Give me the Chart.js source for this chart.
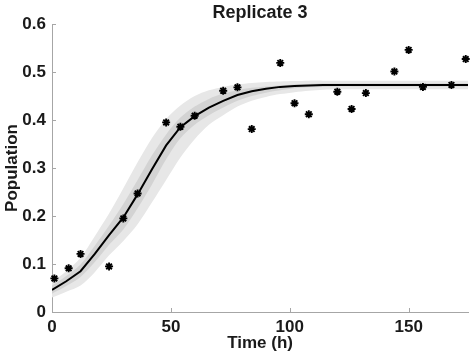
<!DOCTYPE html>
<html>
<head>
<meta charset="utf-8">
<script src="https://cdn.jsdelivr.net/npm/chart.js@4/dist/chart.umd.min.js"></script>
<style>
html,body{margin:0;padding:0;background:#fff;}
#c{display:block;}
</style>
</head>
<body>
<canvas id="c" width="474" height="355"></canvas>
<script>
// Observed data (asterisks)
const obsTime = [1, 7, 12, 24, 30, 36, 48, 54, 60, 72, 78, 84, 96, 102, 108, 120, 126, 132, 144, 150, 156, 168, 174];
const obsPop  = [0.070, 0.091, 0.121, 0.095, 0.195, 0.247, 0.395, 0.386, 0.409, 0.461, 0.468, 0.381, 0.519, 0.435, 0.412, 0.459, 0.423, 0.456, 0.501, 0.546, 0.469, 0.473, 0.527];

// Fitted curve and uncertainty bands
const fitTime = [0, 6, 12, 18, 24, 30, 36, 42, 48, 54, 60, 66, 72, 78, 84, 90, 96, 102, 108, 114, 120, 126, 132, 138, 144, 150, 156, 162, 168, 175];
const fitMean = [0.046, 0.064, 0.085, 0.121, 0.160, 0.197, 0.245, 0.297, 0.347, 0.385, 0.408, 0.426, 0.440, 0.452, 0.460, 0.465, 0.469, 0.471, 0.472, 0.473, 0.473, 0.473, 0.473, 0.473, 0.473, 0.473, 0.473, 0.473, 0.473, 0.473];
const outerUpper = [0.062, 0.085, 0.113, 0.158, 0.205, 0.258, 0.312, 0.362, 0.402, 0.430, 0.450, 0.462, 0.469, 0.474, 0.477, 0.479, 0.480, 0.481, 0.482, 0.482, 0.482, 0.482, 0.482, 0.482, 0.482, 0.482, 0.482, 0.482, 0.482, 0.482];
const innerUpper = [0.055, 0.075, 0.099, 0.138, 0.180, 0.225, 0.275, 0.326, 0.370, 0.405, 0.428, 0.444, 0.455, 0.462, 0.467, 0.470, 0.472, 0.474, 0.475, 0.476, 0.476, 0.476, 0.476, 0.476, 0.476, 0.476, 0.476, 0.476, 0.476, 0.476];
const innerLower = [0.038, 0.054, 0.073, 0.104, 0.140, 0.172, 0.216, 0.265, 0.318, 0.362, 0.390, 0.410, 0.426, 0.440, 0.450, 0.457, 0.462, 0.466, 0.468, 0.469, 0.470, 0.470, 0.470, 0.470, 0.470, 0.470, 0.470, 0.470, 0.470, 0.470];
const outerLower = [0.030, 0.042, 0.055, 0.083, 0.118, 0.148, 0.183, 0.228, 0.275, 0.322, 0.360, 0.390, 0.410, 0.428, 0.440, 0.448, 0.454, 0.458, 0.461, 0.463, 0.464, 0.464, 0.464, 0.464, 0.464, 0.464, 0.464, 0.464, 0.464, 0.464];

const xTicks = [0, 50, 100, 150];
const yTicks = [0, 0.1, 0.2, 0.3, 0.4, 0.5, 0.6];
const chartTitle = 'Replicate 3';

const toXY = (xs, ys) => xs.map((x, i) => ({x: x, y: ys[i]}));

const FONT = "'Liberation Sans', Arial, Helvetica, sans-serif";
const AXIS_COLOR = '#a6a6a6';
const TEXT_COLOR = '#1a1a1a';

const inwardTicks = {
  id: 'inwardTicks',
  afterDatasetsDraw(chart) {
    const ctx = chart.ctx;
    const xs = chart.scales.x, ys = chart.scales.y;
    const a = chart.chartArea;
    ctx.save();
    ctx.strokeStyle = AXIS_COLOR;
    ctx.lineWidth = 1;
    ctx.beginPath();
    xTicks.forEach(v => {
      const px = Math.round(xs.getPixelForValue(v)) + 0.5;
      ctx.moveTo(px, a.bottom);
      ctx.lineTo(px, a.bottom - 4);
    });
    yTicks.forEach(v => {
      const py = Math.round(ys.getPixelForValue(v)) + 0.5;
      ctx.moveTo(a.left, py);
      ctx.lineTo(a.left + 4, py);
    });
    ctx.stroke();
    ctx.restore();
  }
};

const plotTitle = {
  id: 'plotTitle',
  afterDraw(chart) {
    const ctx = chart.ctx;
    const a = chart.chartArea;
    ctx.save();
    ctx.fillStyle = TEXT_COLOR;
    ctx.font = "bold 18px " + FONT;
    ctx.textAlign = 'center';
    ctx.textBaseline = 'alphabetic';
    ctx.fillText(chartTitle, (a.left + a.right) / 2, 18);
    ctx.restore();
  }
};

new Chart(document.getElementById('c'), {
  type: 'line',
  data: {
    datasets: [
      {
        label: 'Observed',
        data: toXY(obsTime, obsPop),
        showLine: false,
        pointStyle: 'star',
        pointRadius: 4,
        pointBorderWidth: 1.9,
        pointBorderColor: '#000',
        pointBackgroundColor: '#000',
        clip: false
      },
      {
        label: 'Fit',
        data: toXY(fitTime, fitMean),
        borderColor: '#000',
        borderWidth: 2,
        pointRadius: 0,
        tension: 0,
        fill: false
      },
      {
        label: 'Inner upper',
        data: toXY(fitTime, innerUpper),
        borderWidth: 0,
        borderColor: 'rgba(0,0,0,0)',
        pointRadius: 0,
        tension: 0.3,
        backgroundColor: '#d3d3d3',
        fill: '+1'
      },
      {
        label: 'Inner lower',
        data: toXY(fitTime, innerLower),
        borderWidth: 0,
        borderColor: 'rgba(0,0,0,0)',
        pointRadius: 0,
        tension: 0.3,
        fill: false
      },
      {
        label: 'Outer upper',
        data: toXY(fitTime, outerUpper),
        borderWidth: 0,
        borderColor: 'rgba(0,0,0,0)',
        pointRadius: 0,
        tension: 0.3,
        backgroundColor: '#e7e7e7',
        fill: '+1'
      },
      {
        label: 'Outer lower',
        data: toXY(fitTime, outerLower),
        borderWidth: 0,
        borderColor: 'rgba(0,0,0,0)',
        pointRadius: 0,
        tension: 0.3,
        fill: false
      }
    ]
  },
  options: {
    responsive: false,
    animation: false,
    events: [],
    layout: { padding: { left: 0, right: 0, top: 24, bottom: 0 } },
    plugins: {
      legend: { display: false },
      tooltip: { enabled: false },
      title: { display: false }
    },
    scales: {
      x: {
        type: 'linear',
        min: 0,
        max: 175,
        border: { display: true, color: AXIS_COLOR, width: 1 },
        grid: { display: false, drawTicks: false },
        afterFit: s => { s.height = 43; },
        afterBuildTicks: s => { s.ticks = xTicks.map(v => ({value: v})); },
        ticks: {
          includeBounds: false,
          color: TEXT_COLOR,
          padding: 5,
          maxRotation: 0,
          font: { family: FONT, size: 17, weight: 'bold' },
          callback: v => String(v)
        },
        title: {
          display: true,
          text: 'Time (h)',
          color: TEXT_COLOR,
          font: { family: FONT, size: 17, weight: 'bold', lineHeight: 1.2 },
          padding: { top: 0, bottom: 1 }
        }
      },
      y: {
        type: 'linear',
        min: 0,
        max: 0.6,
        border: { display: true, color: AXIS_COLOR, width: 1 },
        grid: { display: false, drawTicks: false },
        afterFit: s => { s.width = 52; },
        afterBuildTicks: s => { s.ticks = yTicks.map(v => ({value: v})); },
        ticks: {
          color: TEXT_COLOR,
          padding: 6,
          font: { family: FONT, size: 17, weight: 'bold' },
          callback: v => (v === 0 ? '0' : Number(v).toFixed(1))
        },
        title: {
          display: true,
          text: 'Population',
          color: TEXT_COLOR,
          font: { family: FONT, size: 17, weight: 'bold', lineHeight: 1.2 },
          padding: { top: 2, bottom: 0 }
        }
      }
    }
  },
  plugins: [inwardTicks, plotTitle]
});
</script>
</body>
</html>
